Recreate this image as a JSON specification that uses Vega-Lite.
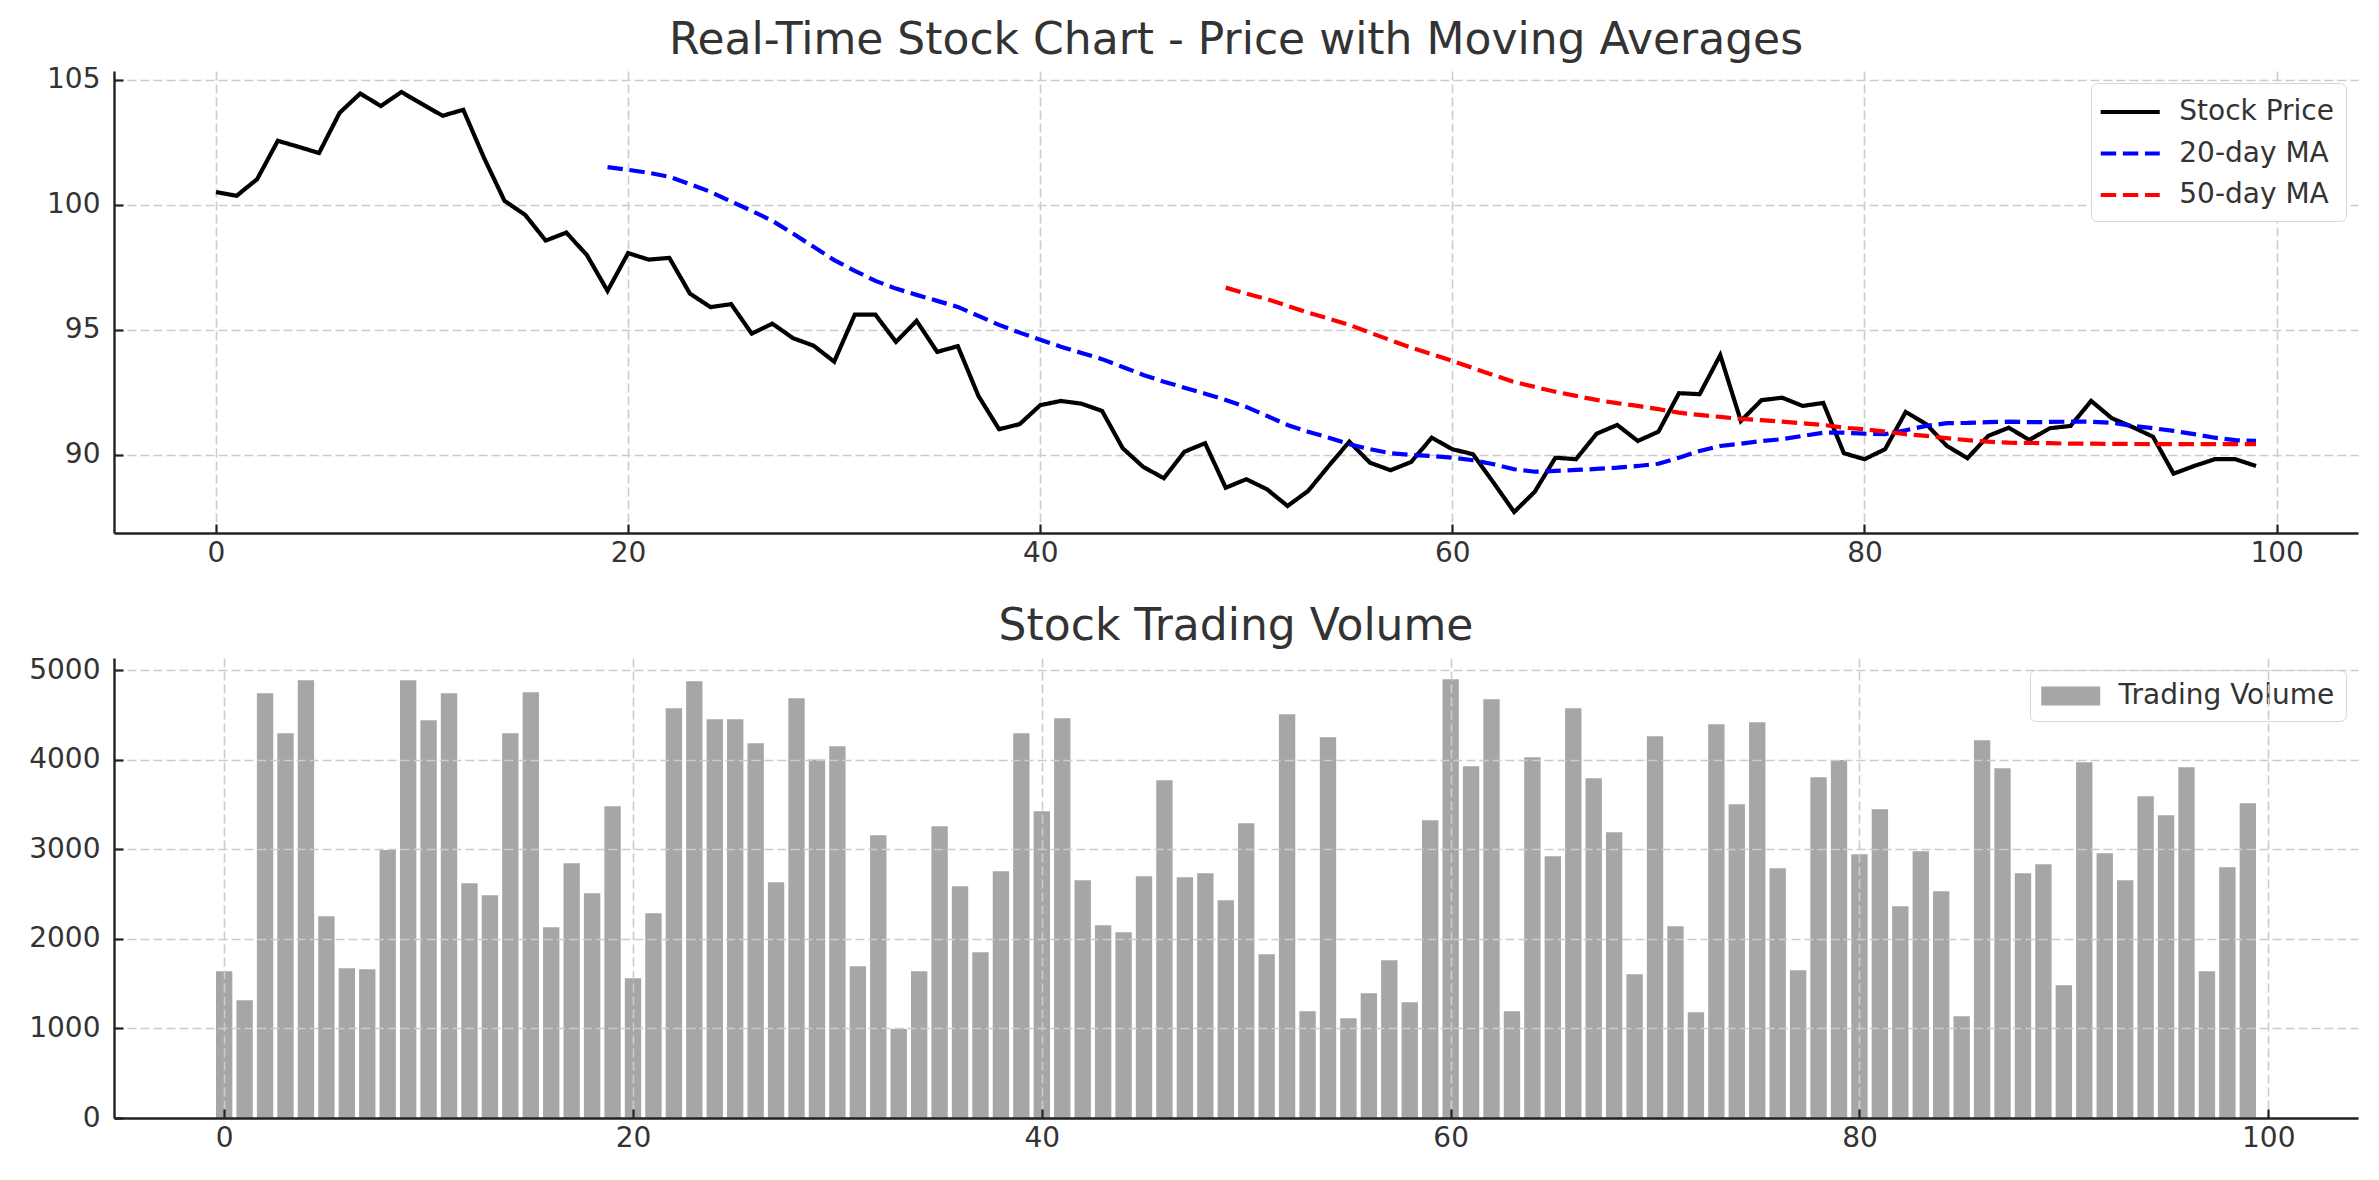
{
  "$schema": "https://vega.github.io/schema/vega-lite/v6.json",
  "padding": {"left": 28, "top": 18, "right": 5, "bottom": 5},
  "bounds": "flush",
  "spacing": 125,
  "background": "white",
  "data": {
    "values": [
      {"t": 0, "price": 100.51, "ma20": null, "ma50": null, "volume": 1638},
      {"t": 1, "price": 100.36, "ma20": null, "ma50": null, "volume": 1314},
      {"t": 2, "price": 101.03, "ma20": null, "ma50": null, "volume": 4743},
      {"t": 3, "price": 102.56, "ma20": null, "ma50": null, "volume": 4296},
      {"t": 4, "price": 102.32, "ma20": null, "ma50": null, "volume": 4888},
      {"t": 5, "price": 102.07, "ma20": null, "ma50": null, "volume": 2252},
      {"t": 6, "price": 103.68, "ma20": null, "ma50": null, "volume": 1672},
      {"t": 7, "price": 104.45, "ma20": null, "ma50": null, "volume": 1660},
      {"t": 8, "price": 103.95, "ma20": null, "ma50": null, "volume": 2993},
      {"t": 9, "price": 104.51, "ma20": null, "ma50": null, "volume": 4888},
      {"t": 10, "price": 104.03, "ma20": null, "ma50": null, "volume": 4441},
      {"t": 11, "price": 103.56, "ma20": null, "ma50": null, "volume": 4743},
      {"t": 12, "price": 103.8, "ma20": null, "ma50": null, "volume": 2621},
      {"t": 13, "price": 101.89, "ma20": null, "ma50": null, "volume": 2487},
      {"t": 14, "price": 100.16, "ma20": null, "ma50": null, "volume": 4296},
      {"t": 15, "price": 99.6, "ma20": null, "ma50": null, "volume": 4754},
      {"t": 16, "price": 98.57, "ma20": null, "ma50": null, "volume": 2130},
      {"t": 17, "price": 98.89, "ma20": null, "ma50": null, "volume": 2844},
      {"t": 18, "price": 97.99, "ma20": null, "ma50": null, "volume": 2509},
      {"t": 19, "price": 96.56, "ma20": 101.51, "ma50": null, "volume": 3481},
      {"t": 20, "price": 98.07, "ma20": 101.4, "ma50": null, "volume": 1560},
      {"t": 21, "price": 97.81, "ma20": 101.28, "ma50": null, "volume": 2286},
      {"t": 22, "price": 97.88, "ma20": 101.12, "ma50": null, "volume": 4576},
      {"t": 23, "price": 96.45, "ma20": 100.83, "ma50": null, "volume": 4877},
      {"t": 24, "price": 95.91, "ma20": 100.52, "ma50": null, "volume": 4453},
      {"t": 25, "price": 96.03, "ma20": 100.13, "ma50": null, "volume": 4453},
      {"t": 26, "price": 94.85, "ma20": 99.76, "ma50": null, "volume": 4185},
      {"t": 27, "price": 95.25, "ma20": 99.36, "ma50": null, "volume": 2632},
      {"t": 28, "price": 94.67, "ma20": 98.85, "ma50": null, "volume": 4687},
      {"t": 29, "price": 94.37, "ma20": 98.32, "ma50": null, "volume": 4002},
      {"t": 30, "price": 93.73, "ma20": 97.79, "ma50": null, "volume": 4151},
      {"t": 31, "price": 95.61, "ma20": 97.36, "ma50": null, "volume": 1694},
      {"t": 32, "price": 95.61, "ma20": 96.96, "ma50": null, "volume": 3157},
      {"t": 33, "price": 94.52, "ma20": 96.65, "ma50": null, "volume": 994},
      {"t": 34, "price": 95.36, "ma20": 96.4, "ma50": null, "volume": 1638},
      {"t": 35, "price": 94.12, "ma20": 96.16, "ma50": null, "volume": 3258},
      {"t": 36, "price": 94.35, "ma20": 95.92, "ma50": null, "volume": 2588},
      {"t": 37, "price": 92.36, "ma20": 95.56, "ma50": null, "volume": 1850},
      {"t": 38, "price": 91.03, "ma20": 95.2, "ma50": null, "volume": 2755},
      {"t": 39, "price": 91.23, "ma20": 94.89, "ma50": null, "volume": 4296},
      {"t": 40, "price": 91.99, "ma20": 94.61, "ma50": null, "volume": 3425},
      {"t": 41, "price": 92.16, "ma20": 94.33, "ma50": null, "volume": 4464},
      {"t": 42, "price": 92.05, "ma20": 94.08, "ma50": null, "volume": 2655},
      {"t": 43, "price": 91.76, "ma20": 93.83, "ma50": null, "volume": 2152},
      {"t": 44, "price": 90.27, "ma20": 93.52, "ma50": null, "volume": 2074},
      {"t": 45, "price": 89.52, "ma20": 93.2, "ma50": null, "volume": 2699},
      {"t": 46, "price": 89.07, "ma20": 92.93, "ma50": null, "volume": 3771},
      {"t": 47, "price": 90.13, "ma20": 92.69, "ma50": null, "volume": 2688},
      {"t": 48, "price": 90.47, "ma20": 92.45, "ma50": null, "volume": 2733},
      {"t": 49, "price": 88.69, "ma20": 92.2, "ma50": 96.69, "volume": 2431},
      {"t": 50, "price": 89.03, "ma20": 91.92, "ma50": 96.45, "volume": 3291},
      {"t": 51, "price": 88.63, "ma20": 91.56, "ma50": 96.23, "volume": 1828},
      {"t": 52, "price": 87.96, "ma20": 91.2, "ma50": 95.96, "volume": 4509},
      {"t": 53, "price": 88.56, "ma20": 90.93, "ma50": 95.69, "volume": 1191},
      {"t": 54, "price": 89.56, "ma20": 90.69, "ma50": 95.45, "volume": 4252},
      {"t": 55, "price": 90.53, "ma20": 90.43, "ma50": 95.2, "volume": 1113},
      {"t": 56, "price": 89.69, "ma20": 90.23, "ma50": 94.89, "volume": 1392},
      {"t": 57, "price": 89.39, "ma20": 90.07, "ma50": 94.59, "volume": 1761},
      {"t": 58, "price": 89.72, "ma20": 90.0, "ma50": 94.29, "volume": 1292},
      {"t": 59, "price": 90.69, "ma20": 89.96, "ma50": 94.03, "volume": 3325},
      {"t": 60, "price": 90.23, "ma20": 89.89, "ma50": 93.76, "volume": 4900},
      {"t": 61, "price": 90.03, "ma20": 89.79, "ma50": 93.47, "volume": 3928},
      {"t": 62, "price": 88.89, "ma20": 89.63, "ma50": 93.19, "volume": 4676},
      {"t": 63, "price": 87.72, "ma20": 89.43, "ma50": 92.92, "volume": 1191},
      {"t": 64, "price": 88.53, "ma20": 89.33, "ma50": 92.72, "volume": 4028},
      {"t": 65, "price": 89.89, "ma20": 89.36, "ma50": 92.53, "volume": 2923},
      {"t": 66, "price": 89.83, "ma20": 89.4, "ma50": 92.36, "volume": 4576},
      {"t": 67, "price": 90.85, "ma20": 89.44, "ma50": 92.2, "volume": 3794},
      {"t": 68, "price": 91.2, "ma20": 89.49, "ma50": 92.07, "volume": 3191},
      {"t": 69, "price": 90.56, "ma20": 89.56, "ma50": 91.96, "volume": 1605},
      {"t": 70, "price": 90.93, "ma20": 89.65, "ma50": 91.83, "volume": 4263},
      {"t": 71, "price": 92.47, "ma20": 89.89, "ma50": 91.69, "volume": 2141},
      {"t": 72, "price": 92.43, "ma20": 90.16, "ma50": 91.6, "volume": 1180},
      {"t": 73, "price": 93.99, "ma20": 90.36, "ma50": 91.52, "volume": 4397},
      {"t": 74, "price": 91.36, "ma20": 90.45, "ma50": 91.44, "volume": 3503},
      {"t": 75, "price": 92.19, "ma20": 90.56, "ma50": 91.39, "volume": 4419},
      {"t": 76, "price": 92.29, "ma20": 90.63, "ma50": 91.33, "volume": 2789},
      {"t": 77, "price": 91.96, "ma20": 90.76, "ma50": 91.27, "volume": 1649},
      {"t": 78, "price": 92.08, "ma20": 90.89, "ma50": 91.2, "volume": 3805},
      {"t": 79, "price": 90.07, "ma20": 90.89, "ma50": 91.09, "volume": 3998},
      {"t": 80, "price": 89.83, "ma20": 90.85, "ma50": 91.03, "volume": 2945},
      {"t": 81, "price": 90.23, "ma20": 90.83, "ma50": 90.93, "volume": 3448},
      {"t": 82, "price": 91.72, "ma20": 90.99, "ma50": 90.83, "volume": 2364},
      {"t": 83, "price": 91.23, "ma20": 91.16, "ma50": 90.76, "volume": 2978},
      {"t": 84, "price": 90.36, "ma20": 91.27, "ma50": 90.67, "volume": 2532},
      {"t": 85, "price": 89.87, "ma20": 91.28, "ma50": 90.59, "volume": 1136},
      {"t": 86, "price": 90.76, "ma20": 91.31, "ma50": 90.53, "volume": 4218},
      {"t": 87, "price": 91.09, "ma20": 91.33, "ma50": 90.49, "volume": 3906},
      {"t": 88, "price": 90.6, "ma20": 91.31, "ma50": 90.48, "volume": 2733},
      {"t": 89, "price": 91.07, "ma20": 91.32, "ma50": 90.47, "volume": 2833},
      {"t": 90, "price": 91.16, "ma20": 91.33, "ma50": 90.45, "volume": 1482},
      {"t": 91, "price": 92.16, "ma20": 91.33, "ma50": 90.45, "volume": 3973},
      {"t": 92, "price": 91.47, "ma20": 91.29, "ma50": 90.44, "volume": 2956},
      {"t": 93, "price": 91.12, "ma20": 91.16, "ma50": 90.44, "volume": 2655},
      {"t": 94, "price": 90.73, "ma20": 91.07, "ma50": 90.43, "volume": 3593},
      {"t": 95, "price": 89.25, "ma20": 90.96, "ma50": 90.43, "volume": 3381},
      {"t": 96, "price": 89.56, "ma20": 90.83, "ma50": 90.43, "volume": 3917},
      {"t": 97, "price": 89.83, "ma20": 90.69, "ma50": 90.43, "volume": 1638},
      {"t": 98, "price": 89.83, "ma20": 90.59, "ma50": 90.43, "volume": 2800},
      {"t": 99, "price": 89.56, "ma20": 90.56, "ma50": 90.43, "volume": 3515}
    ]
  },
  "resolve": {
    "scale": {"x": "independent", "y": "independent", "color": "independent", "strokeDash": "independent"},
    "legend": {"color": "independent", "strokeDash": "independent"}
  },
  "vconcat": [
    {
      "title": "Real-Time Stock Chart - Price with Moving Averages",
      "width": 2244,
      "height": 462,
      "encoding": {
        "x": {
          "field": "t",
          "type": "quantitative",
          "scale": {"domain": [-4.95, 103.95], "nice": false, "zero": false},
          "axis": {"values": [0, 20, 40, 60, 80, 100]}
        }
      },
      "layer": [
        {
          "mark": {"type": "line", "strokeWidth": 4.2},
          "encoding": {
            "y": {
              "field": "price",
              "type": "quantitative",
              "scale": {"domain": [86.88, 105.35], "nice": false, "zero": false},
              "axis": {"values": [90, 95, 100, 105]}
            },
            "color": {
              "datum": "Stock Price",
              "scale": {"domain": ["Stock Price", "20-day MA", "50-day MA"], "range": ["black", "blue", "red"]},
              "legend": {
                "title": null,
                "orient": "top-right",
                "offset": 12,
                "symbolType": "M-2,0H2",
                "symbolSize": 870,
                "symbolOffset": 10.25,
                "symbolStrokeWidth": 4.2,
                "labelFontSize": 28,
                "labelColor": "#333333",
                "labelOffset": 32,
                "labelLimit": 400,
                "rowPadding": 10.5,
                "padding": 12,
                "strokeColor": "#d6d6d6",
                "fillColor": "white",
                "cornerRadius": 6
              }
            },
            "strokeDash": {
              "datum": "Stock Price",
              "scale": {"domain": ["Stock Price", "20-day MA", "50-day MA"], "range": [[1, 0], [15.4, 6.7], [15.4, 6.7]]},
              "legend": null
            }
          }
        },
        {
          "mark": {"type": "line", "strokeWidth": 4.2},
          "encoding": {
            "y": {"field": "ma20", "type": "quantitative"},
            "color": {"datum": "20-day MA"},
            "strokeDash": {"datum": "20-day MA"}
          }
        },
        {
          "mark": {"type": "line", "strokeWidth": 4.2},
          "encoding": {
            "y": {"field": "ma50", "type": "quantitative"},
            "color": {"datum": "50-day MA"},
            "strokeDash": {"datum": "50-day MA"}
          }
        }
      ]
    },
    {
      "title": {"text": "Stock Trading Volume", "offset": 7.5},
      "width": 2244,
      "height": 460,
      "mark": {"type": "bar", "width": 16.35},
      "encoding": {
        "x": {
          "field": "t",
          "type": "quantitative",
          "scale": {"domain": [-5.39, 104.39], "nice": false, "zero": false, "padding": 0},
          "axis": {"values": [0, 20, 40, 60, 80, 100], "zindex": 1}
        },
        "y": {
          "field": "volume",
          "type": "quantitative",
          "scale": {"domain": [0, 5136], "nice": false},
          "axis": {"values": [0, 1000, 2000, 3000, 4000, 5000], "format": "d", "zindex": 1}
        },
        "color": {
          "datum": "Trading Volume",
          "scale": {"range": ["#a6a6a6"]},
          "legend": {
            "title": null,
            "orient": "top-right",
            "offset": 12,
            "symbolType": "M-2,-0.65H2V0.65H-2Z",
            "symbolSize": 870,
            "symbolOffset": 14.75,
            "symbolStrokeWidth": 0,
            "labelFontSize": 28,
            "labelColor": "#333333",
            "labelOffset": 32.75,
            "labelLimit": 400,
            "padding": 11,
            "strokeColor": "#d6d6d6",
            "fillColor": "white",
            "cornerRadius": 6
          }
        }
      }
    }
  ],
  "config": {
    "font": "DejaVu Sans",
    "view": {"stroke": null},
    "title": {"fontSize": 44, "fontWeight": "normal", "color": "#333333", "offset": 3, "baseline": "alphabetic"},
    "axis": {
      "title": null,
      "domainColor": "#222222",
      "domainWidth": 2.4,
      "tickColor": "#222222",
      "tickWidth": 2.2,
      "tickSize": -9,
      "labelFontSize": 28,
      "labelColor": "#333333",
      "labelFont": "DejaVu Sans",
      "grid": true,
      "gridColor": "#cccccc",
      "gridDash": [9, 4],
      "gridWidth": 1.6
    },
    "axisY": {"labelPadding": 23},
    "axisX": {"labelPadding": 15}
  }
}
